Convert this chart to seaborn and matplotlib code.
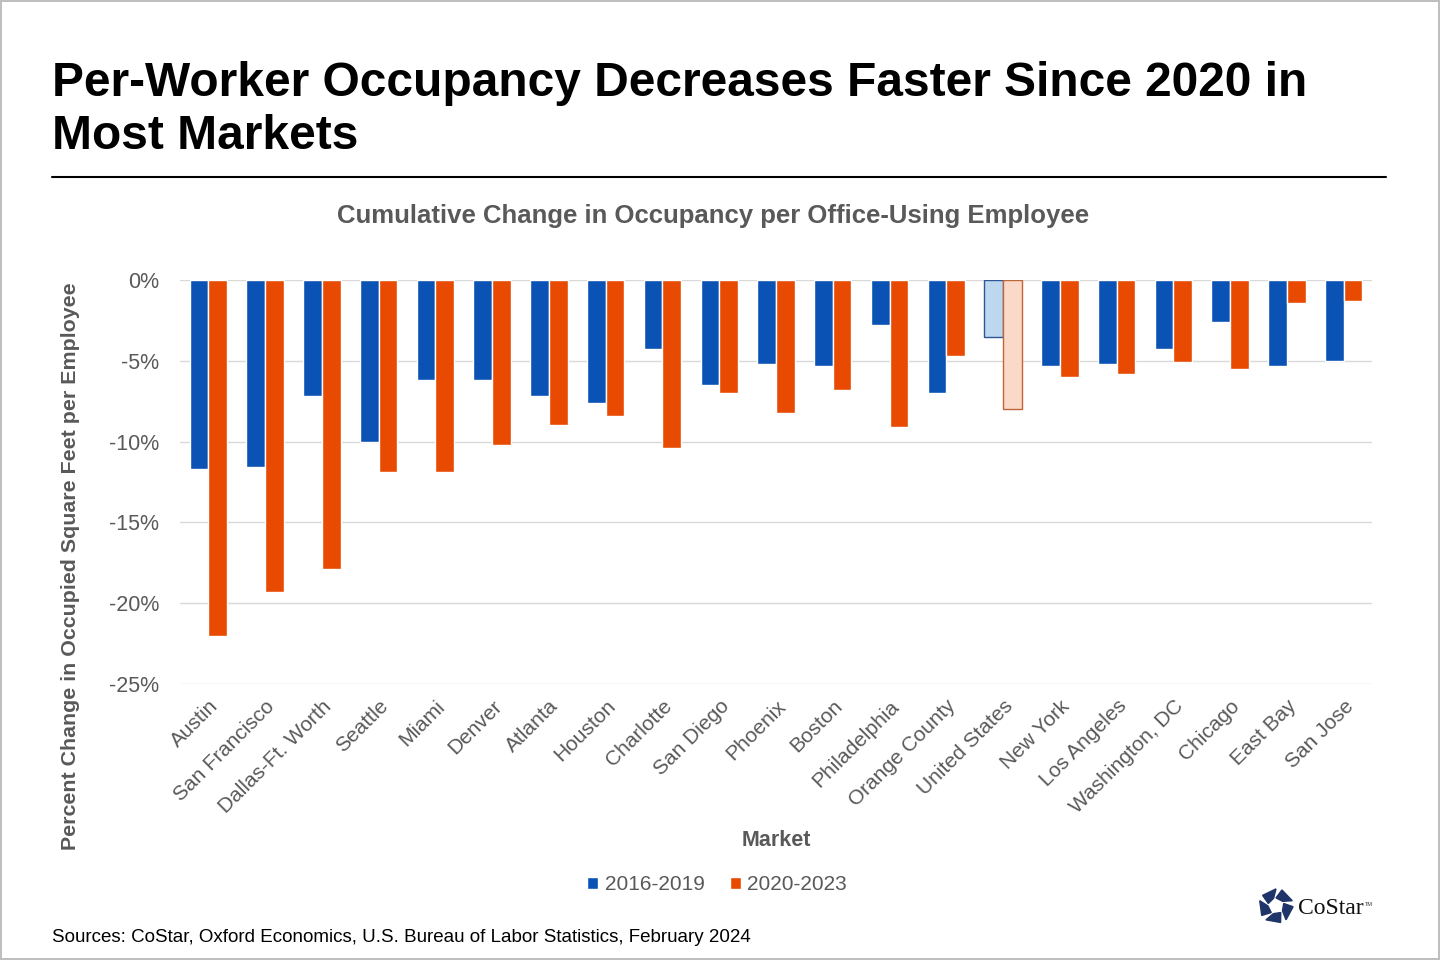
import numpy as np
import pandas as pd
import matplotlib
matplotlib.use('Agg')
import matplotlib.pyplot as plt
import seaborn as sns
from matplotlib.patches import Patch, Polygon

# data (percent change)
markets = ['Austin', 'San Francisco', 'Dallas-Ft. Worth', 'Seattle', 'Miami', 'Denver',
           'Atlanta', 'Houston', 'Charlotte', 'San Diego', 'Phoenix', 'Boston',
           'Philadelphia', 'Orange County', 'United States', 'New York', 'Los Angeles',
           'Washington, DC', 'Chicago', 'East Bay', 'San Jose']
chg_2016_2019 = [-11.7, -11.6, -7.2, -10.0, -6.2, -6.2, -7.2, -7.6, -4.3, -6.5, -5.2,
                 -5.3, -2.8, -7.0, -3.5, -5.3, -5.2, -4.3, -2.6, -5.3, -5.0]
chg_2020_2023 = [-22.0, -19.3, -17.9, -11.9, -11.9, -10.2, -9.0, -8.4, -10.4, -7.0, -8.2,
                 -6.8, -9.1, -4.7, -8.0, -6.0, -5.8, -5.1, -5.5, -1.4, -1.3]
periods = ['2016-2019', '2020-2023']
yticks = [0, -5, -10, -15, -20, -25]

blue = '#0A52B4'
orange = '#E84A02'
grey = '#595959'

df = pd.DataFrame({
    'market': markets * 2,
    'value': chg_2016_2019 + chg_2020_2023,
    'period': [periods[0]] * len(markets) + [periods[1]] * len(markets),
})

sns.set_style('white')
plt.rcParams['font.family'] = ['Liberation Sans', 'DejaVu Sans']

W, H = 1440, 960
fig = plt.figure(figsize=(W / 100, H / 100), dpi=100)
fig.patch.set_edgecolor('#BFBFBF')
fig.patch.set_linewidth(1.5)

ax = fig.add_axes([180 / W, 1 - 684 / H, (1372 - 180) / W, (684 - 280) / H])
sns.barplot(data=df, x='market', y='value', hue='period', palette=[blue, orange],
            width=0.66, gap=0, ax=ax, legend=False, saturation=1)

# United States bars are highlighted in light tints
us = markets.index('United States')
ax.containers[0][us].set_facecolor('#BDD7EE')
ax.containers[0][us].set_edgecolor('#2F5597')
ax.containers[0][us].set_linewidth(1)
ax.containers[1][us].set_facecolor('#FBD9C8')
ax.containers[1][us].set_edgecolor('#C0643A')
ax.containers[1][us].set_linewidth(1)

ax.set_ylim(-25, 0)
ax.set_xlim(-0.5, len(markets) - 0.5)
ax.set_yticks(yticks)
ax.set_yticklabels([f'{v}%' for v in yticks], fontsize=15.5, color=grey)
ax.set_xticks(range(len(markets)))
ax.set_xticklabels(markets, rotation=45, ha='right', rotation_mode='anchor',
                   fontsize=15, color=grey)
ax.tick_params(axis='both', length=0)
ax.tick_params(axis='y', pad=15)
ax.tick_params(axis='x', pad=9)
ax.yaxis.grid(True, color='#D9D9D9', linewidth=1)
ax.set_axisbelow(True)
ax.set_xlabel('')
ax.set_ylabel('')
for s in ax.spines.values():
    s.set_visible(False)

# titles and labels
fig.text(52 / W, 1 - 110 / H, 'Per-Worker Occupancy Decreases Faster Since 2020 in\nMost Markets',
         fontsize=34.5, fontweight='bold', color='black', va='center', ha='left', linespacing=1.22)
fig.add_artist(plt.Line2D([52 / W, 1386 / W], [1 - 177 / H, 1 - 177 / H], color='black', lw=1.5))
fig.text(713 / W, 1 - 216 / H, 'Cumulative Change in Occupancy per Office-Using Employee',
         fontsize=18.5, fontweight='bold', color=grey, ha='center', va='center')
fig.text(71 / W, 1 - 566 / H, 'Percent Change in Occupied Square Feet per Employee',
         fontsize=15.4, fontweight='bold', color=grey, rotation=90, ha='center', va='center')
fig.text(776 / W, 1 - 841 / H, 'Market', fontsize=15.5, fontweight='bold', color=grey,
         ha='center', va='center')

handles = [Patch(facecolor=blue), Patch(facecolor=orange)]
fig.legend(handles, periods, loc='center', bbox_to_anchor=(717 / W, 1 - 885 / H),
           ncol=2, frameon=False, fontsize=15, labelcolor=grey, handlelength=0.55,
           handleheight=0.55, handletextpad=0.3, columnspacing=1.2)

fig.text(52 / W, 1 - 938 / H,
         'Sources: CoStar, Oxford Economics, U.S. Bureau of Labor Statistics, February 2024',
         fontsize=13.5, color='black', ha='left', va='center')

# CoStar logo
lax = fig.add_axes([1258 / W, 1 - 924 / H, 36 / W, 36 / H])
lax.set_xlim(-1, 1)
lax.set_ylim(-1, 1)
lax.axis('off')
for k in range(5):
    a = np.deg2rad(90 + 72 * k)
    b = a + np.deg2rad(72)
    pts = [(0.95 * np.cos(a), 0.95 * np.sin(a)),
           (0.95 * np.cos(a + 0.9), 0.95 * np.sin(a + 0.9)),
           (0.45 * np.cos(b), 0.45 * np.sin(b)),
           (0.45 * np.cos(a + 0.3), 0.45 * np.sin(a + 0.3))]
    lax.add_patch(Polygon(pts, closed=True, color='#1F3468'))
fig.text(1298 / W, 1 - 908 / H, 'CoStar', fontsize=17, family='Liberation Serif',
         color='#111111', ha='left', va='center')
fig.text(1365 / W, 1 - 904 / H, 'TM', fontsize=4, color='#333333', ha='left', va='center')

fig.savefig('out.png', dpi=100)
